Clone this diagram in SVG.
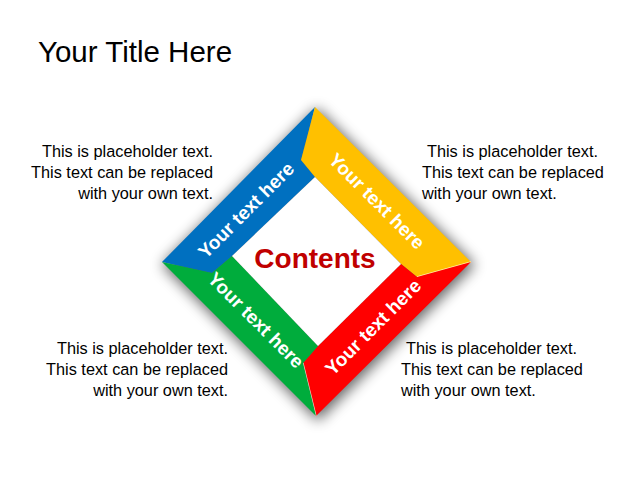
<svg xmlns="http://www.w3.org/2000/svg" width="640" height="480" viewBox="0 0 640 480">
  <defs>
    <filter id="blur" x="-25%" y="-25%" width="150%" height="150%">
      <feGaussianBlur stdDeviation="7"/>
    </filter>
  </defs>
  <style>
    .title { font-family: "Liberation Sans", Arial, sans-serif; font-size: 29.5px; fill: #000; }
    .body { font-family: "Liberation Sans", Arial, sans-serif; font-size: 16.3px; fill: #000; }
    .lbl { font-family: "Liberation Sans", Arial, sans-serif; font-size: 19px; font-weight: bold; fill: #fff; text-anchor: middle; }
    .center { font-family: "Liberation Sans", Arial, sans-serif; font-size: 28px; font-weight: bold; fill: #C00000; text-anchor: middle; }
    .r { text-anchor: end; }
  </style>
  <rect width="640" height="480" fill="#fff"/>
  <text class="title" x="38" y="62">Your Title Here</text>

  <polygon points="315,105 473,262 316,418 160,262" fill="#000" opacity="0.6" filter="url(#blur)" transform="translate(2,3)"/>

  <g id="band-blue">
    <polygon points="162,262 315,107 301,160 315,177 232,256 212,273" fill="#0070C0"/>
    <text class="lbl" transform="translate(246,210) rotate(-45)" dy="6.7">Your text here</text>
  </g>
  <g id="band-yellow">
    <polygon points="315,107 471,262 417,277 401,264 315,177 301,160" fill="#FFC000"/>
    <line x1="471" y1="262" x2="417" y2="277" stroke="#FFF2A0" stroke-width="1.5"/>
    <text class="lbl" transform="translate(377,201) rotate(45)" dy="6.7">Your text here</text>
  </g>
  <g id="band-red">
    <polygon points="471,262 316,416 303,363 318,346 401,264 417,277" fill="#FF0000"/>
    <line x1="316" y1="416" x2="303" y2="363" stroke="#FFC8C8" stroke-width="1.2"/>
    <text class="lbl" transform="translate(373,327) rotate(-45)" dy="6.7">Your text here</text>
  </g>
  <g id="band-green">
    <polygon points="316,416 162,262 212,273 232,256 318,346 303,363" fill="#00AC3C"/>
    <text class="lbl" transform="translate(256,320) rotate(45)" dy="6.7">Your text here</text>
  </g>
  <g id="center">
    <polygon points="315,177 401,264 318,346 232,256" fill="#fff"/>
    <text class="center" x="315" y="268">Contents</text>
  </g>
  <g id="connectors"/>

  <g id="text-top-left">
    <text class="body r" x="213" y="157">This is placeholder text.</text>
    <text class="body r" x="213" y="178">This text can be replaced</text>
    <text class="body r" x="213" y="199">with your own text.</text>
  </g>
  <g id="text-top-right">
    <text class="body" x="427" y="157">This is placeholder text.</text>
    <text class="body" x="422" y="178">This text can be replaced</text>
    <text class="body" x="422" y="199">with your own text.</text>
  </g>
  <g id="text-bottom-left">
    <text class="body r" x="228" y="354">This is placeholder text.</text>
    <text class="body r" x="228" y="375">This text can be replaced</text>
    <text class="body r" x="228" y="396">with your own text.</text>
  </g>
  <g id="text-bottom-right">
    <text class="body" x="406" y="354">This is placeholder text.</text>
    <text class="body" x="401" y="375">This text can be replaced</text>
    <text class="body" x="401" y="396">with your own text.</text>
  </g>
</svg>
